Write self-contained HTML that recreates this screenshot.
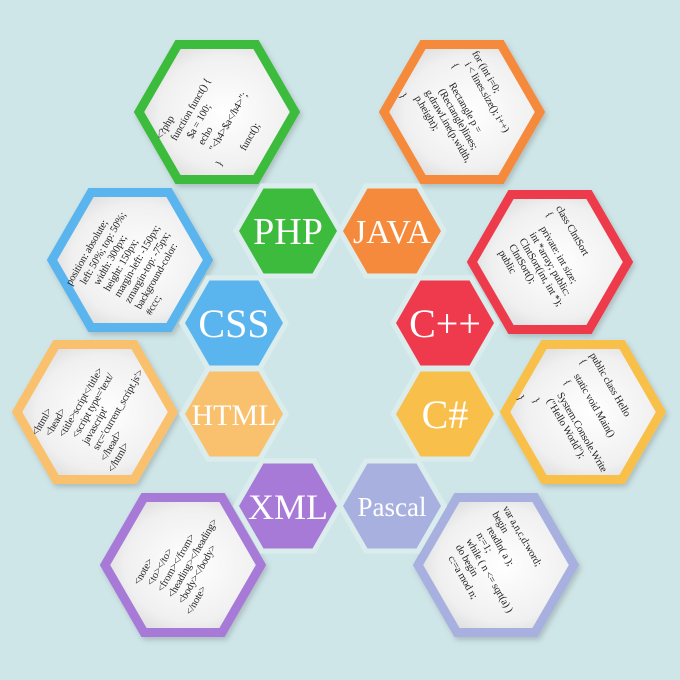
<!DOCTYPE html>
<html><head><meta charset="utf-8"><style>
html,body{margin:0;padding:0;background:#cfe6e8;}
svg{display:block}
.big{font-family:"Liberation Serif",serif;font-size:10.5px;fill:#222;letter-spacing:-0.2px}
.lbl{font-family:"Liberation Serif",serif;fill:#fff;text-anchor:middle;}
</style></head><body>
<svg width="680" height="680" viewBox="0 0 680 680" xmlns="http://www.w3.org/2000/svg">
<defs>
<radialGradient id="g" cx="0.55" cy="0.5" r="0.6">
<stop offset="0" stop-color="#ffffff"/><stop offset="0.7" stop-color="#f0f0f0"/><stop offset="1" stop-color="#d9d9d9"/>
</radialGradient>
<filter id="sh" x="-20%" y="-20%" width="140%" height="140%"><feDropShadow dx="2" dy="3" stdDeviation="3" flood-color="#000" flood-opacity="0.18"/></filter>
<polygon id="B" points="-78,0 -39,-67.5 39,-67.5 78,0 39,67.5 -39,67.5"/>
<polygon id="S" points="-49,0 -24.5,-42.5 24.5,-42.5 49,0 24.5,42.5 -24.5,42.5"/>
<polygon id="H" points="-55,0 -27.5,-47.6 27.5,-47.6 55,0 27.5,47.6 -27.5,47.6"/>
</defs>
<rect width="680" height="680" fill="#cfe6e8"/>

<g transform="translate(217,112)" filter="url(#sh)"><use href="#B" fill="url(#g)" stroke="#3dbb3d" stroke-width="9"/></g>
<g transform="translate(462,112)" filter="url(#sh)"><use href="#B" fill="url(#g)" stroke="#f58a3c" stroke-width="9"/></g>
<g transform="translate(130,260)" filter="url(#sh)"><use href="#B" fill="url(#g)" stroke="#5ab4ee" stroke-width="9"/></g>
<g transform="translate(550,262)" filter="url(#sh)"><use href="#B" fill="url(#g)" stroke="#ee3a4c" stroke-width="9"/></g>
<g transform="translate(95,412)" filter="url(#sh)"><use href="#B" fill="url(#g)" stroke="#f9c06d" stroke-width="9"/></g>
<g transform="translate(583,412)" filter="url(#sh)"><use href="#B" fill="url(#g)" stroke="#f8c04a" stroke-width="9"/></g>
<g transform="translate(183,565)" filter="url(#sh)"><use href="#B" fill="url(#g)" stroke="#a77ad8" stroke-width="9"/></g>
<g transform="translate(496,565)" filter="url(#sh)"><use href="#B" fill="url(#g)" stroke="#a8b0e0" stroke-width="9"/></g>

<g class="big" transform="translate(217,112) rotate(-60)">
<text><tspan x="-52" y="-34">&lt;?php</tspan><tspan x="-46" dy="13">function funct() {</tspan><tspan x="-36" dy="13">$a = 100;</tspan><tspan x="-36" dy="13">echo</tspan><tspan x="-36" dy="13">"&lt;h4&gt;$a&lt;/h4&gt;";</tspan><tspan x="-46" dy="13">}</tspan><tspan x="-20" dy="13">funct();</tspan></text>
</g>
<g class="big" transform="translate(462,112) rotate(60)">
<text><tspan x="-46" y="-38">for (int i=0;</tspan><tspan x="-40" dy="12">i &lt; lines.size(); i++)</tspan><tspan x="-46" dy="12">{</tspan><tspan x="-30" dy="12">Rectangle p =</tspan><tspan x="-30" dy="12">(Rectangle)lines;</tspan><tspan x="-36" dy="12">g.drawLine(p.width,</tspan><tspan x="-36" dy="12">p.height);</tspan><tspan x="-46" dy="12">}</tspan></text>
</g>
<g class="big" transform="translate(130,260) rotate(-60)">
<text><tspan x="-52" y="-38">position: absolute;</tspan><tspan x="-44" dy="12">left: 50%; top: 50%;</tspan><tspan x="-38" dy="12">width: 300px;</tspan><tspan x="-38" dy="12">height: 150px;</tspan><tspan x="-38" dy="12">margin-left: -150px;</tspan><tspan x="-38" dy="12">zmargin-top: -75px;</tspan><tspan x="-38" dy="12">background-color:</tspan><tspan x="-38" dy="12">#ccc;</tspan></text>
</g>
<g class="big" transform="translate(550,262) rotate(60)">
<text><tspan x="-44" y="-32">class ClntSort</tspan><tspan x="-44" dy="12">{</tspan><tspan x="-34" dy="12">private: int size;</tspan><tspan x="-34" dy="12">int *array; public:</tspan><tspan x="-34" dy="12">ClntSort(int, int *);</tspan><tspan x="-34" dy="12">ClntSort();</tspan><tspan x="-34" dy="12">public</tspan></text>
</g>
<g class="big" transform="translate(95,412) rotate(-60)">
<text><tspan x="-50" y="-38">&lt;html&gt;</tspan><tspan x="-44" dy="12">&lt;head&gt;</tspan><tspan x="-38" dy="12">&lt;title&gt;script&lt;/title&gt;</tspan><tspan x="-32" dy="12">&lt;script type='text/</tspan><tspan x="-32" dy="12">javascript'</tspan><tspan x="-32" dy="12">src='current_script.js'&gt;</tspan><tspan x="-38" dy="12">&lt;/head&gt;</tspan><tspan x="-44" dy="12">&lt;/html&gt;</tspan></text>
</g>
<g class="big" transform="translate(583,412) rotate(60)">
<text><tspan x="-46" y="-34">public class Hello</tspan><tspan x="-46" dy="12">{</tspan><tspan x="-36" dy="12">static void Main()</tspan><tspan x="-36" dy="12">{</tspan><tspan x="-28" dy="12">System.Console.Write</tspan><tspan x="-28" dy="12">("Hello World");</tspan><tspan x="-36" dy="12">}</tspan><tspan x="-46" dy="12">}</tspan></text>
</g>
<g class="big" transform="translate(183,565) rotate(-60)">
<text><tspan x="-40" y="-28">&lt;note&gt;</tspan><tspan x="-34" dy="12">&lt;to&gt;&lt;/to&gt;</tspan><tspan x="-34" dy="12">&lt;from&gt;&lt;/from&gt;</tspan><tspan x="-34" dy="12">&lt;heading&gt;&lt;/heading&gt;</tspan><tspan x="-34" dy="12">&lt;body&gt;&lt;/body&gt;</tspan><tspan x="-40" dy="12">&lt;/note&gt;</tspan></text>
</g>
<g class="big" transform="translate(496,565) rotate(60)">
<text><tspan x="-46" y="-34">var a,n,c,d:word;</tspan><tspan x="-46" dy="12">begin</tspan><tspan x="-36" dy="12">readln( a );</tspan><tspan x="-36" dy="12">n:=1;</tspan><tspan x="-36" dy="12">while ( n &lt;= sqrt(a) )</tspan><tspan x="-36" dy="12">do begin</tspan><tspan x="-30" dy="12">c:=a mod n;</tspan></text>
</g>

<g transform="translate(288,231)"><use href="#H" fill="#dbeced"/><use href="#S" fill="#3dbb3d"/><text class="lbl" y="13" font-size="38">PHP</text></g>
<g transform="translate(392,231)"><use href="#H" fill="#dbeced"/><use href="#S" fill="#f58a3c"/><text class="lbl" y="12" font-size="34">JAVA</text></g>
<g transform="translate(234,323)"><use href="#H" fill="#dbeced"/><use href="#S" fill="#5ab4ee"/><text class="lbl" y="14" font-size="40">CSS</text></g>
<g transform="translate(445,323)"><use href="#H" fill="#dbeced"/><use href="#S" fill="#ee3a4c"/><text class="lbl" y="14" font-size="40">C++</text></g>
<g transform="translate(234,414)"><use href="#H" fill="#dbeced"/><use href="#S" fill="#f9c06d"/><text class="lbl" y="11" font-size="30">HTML</text></g>
<g transform="translate(445,414)"><use href="#H" fill="#dbeced"/><use href="#S" fill="#f8c04a"/><text class="lbl" y="14" font-size="40">C#</text></g>
<g transform="translate(288,506)"><use href="#H" fill="#dbeced"/><use href="#S" fill="#a77ad8"/><text class="lbl" y="13" font-size="36">XML</text></g>
<g transform="translate(392,506)"><use href="#H" fill="#dbeced"/><use href="#S" fill="#a8b0e0"/><text class="lbl" y="10" font-size="27">Pascal</text></g>
</svg>
</body></html>
